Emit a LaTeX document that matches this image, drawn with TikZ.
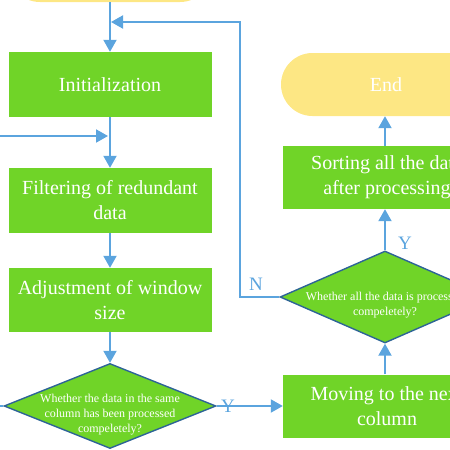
\documentclass[tikz,border=0pt]{standalone}
\usepackage{fontspec}
\setmainfont{Liberation Serif}
\usetikzlibrary{arrows.meta,shapes.geometric}
\definecolor{gr}{RGB}{112,212,40}
\definecolor{ab}{RGB}{91,164,222}
\definecolor{db}{RGB}{45,100,150}
\definecolor{ye}{RGB}{253,231,132}
\begin{document}
\begin{tikzpicture}[x=1pt,y=-1pt,
  box/.style={fill=gr, minimum width=203pt, minimum height=64pt, text=white,
    font=\fontsize{20}{25}\selectfont, align=center, inner sep=0pt},
  term/.style={fill=ye, minimum width=210pt, minimum height=63pt, rounded corners=31.5pt,
    text=white, font=\fontsize{20}{24}\selectfont, inner sep=0pt},
  dia/.style={shape=diamond, fill=gr, draw=db, line width=1.4pt, inner sep=0pt},
  dtext/.style={text=white, font=\fontsize{12}{15}\selectfont, align=center, inner sep=0pt},
  arr/.style={draw=ab, line width=2pt, -{Triangle[width=13pt,length=12pt]}},
  ln/.style={draw=ab, line width=2pt},
  lab/.style={text=ab, font=\fontsize{19}{20}\selectfont, inner sep=0pt}]
\useasboundingbox (0,0) rectangle (450,450);
\clip (0,0) rectangle (450,450);
% left column
\node[term, minimum width=203pt] (start) at (110,-29.5) {};
\node[box, minimum height=65pt] (init) at (110,84.5) {Initialization};
\node[box, minimum height=65pt] (filt) at (110,200.5) {Filtering of redundant\\data};
\node[box] (adj) at (110,300) {Adjustment of window\\size};
\node[dia, minimum width=212pt, minimum height=85pt] (dia1) at (110,406) {};
\node[dtext] (t1) at ([yshift=-9pt]dia1.center) {Whether the data in the same\\column has been processed\\compeletely?};
% right column
\node[term] (end) at (386,84.5) {End};
\node[box, minimum width=208pt, minimum height=63pt] (sort) at (387,177.5) {Sorting all the data\\after processing};
\node[dia, minimum width=210pt, minimum height=92pt] (dia2) at (385,297) {};
\node[dtext] (t2) at ([yshift=-8pt]dia2.center) {Whether all the data is processed\\compeletely?};
\node[box, minimum width=208pt, minimum height=63pt] (mov) at (387,406) {Moving to the next\\column};
% coordinates
\coordinate (lin) at (0,136);
\coordinate (linend) at (108,136);
\coordinate (lw) at (0,406);
\coordinate (fbc) at (240,22);
\coordinate (fbt) at (111,22);
% connectors
\draw[arr] (start.south) -- (init.north);
\draw[arr] (init.south) -- (filt.north);
\draw[arr] (lin) -- (linend);
\draw[arr] (filt.south) -- (adj.north);
\draw[arr] (adj.south) -- (dia1.north);
\draw[ln] (dia1.west) -- (lw);
\draw[arr] (dia1.east) -- (mov.west);
\node[lab] (ly1) at (228,406) {Y};
\draw[arr] (mov.north -| dia2.south) -- (dia2.south);
\draw[arr] (dia2.north) -- (sort.south -| dia2.north);
\node[lab] (ly2) at (405,243) {Y};
\draw[arr] (sort.north -| dia2.north) -- (end.south -| dia2.north);
\draw[arr] (dia2.west) -| (fbc) -- (fbt);
\node[lab] (ln) at (256,284) {N};
\end{tikzpicture}
\end{document}
